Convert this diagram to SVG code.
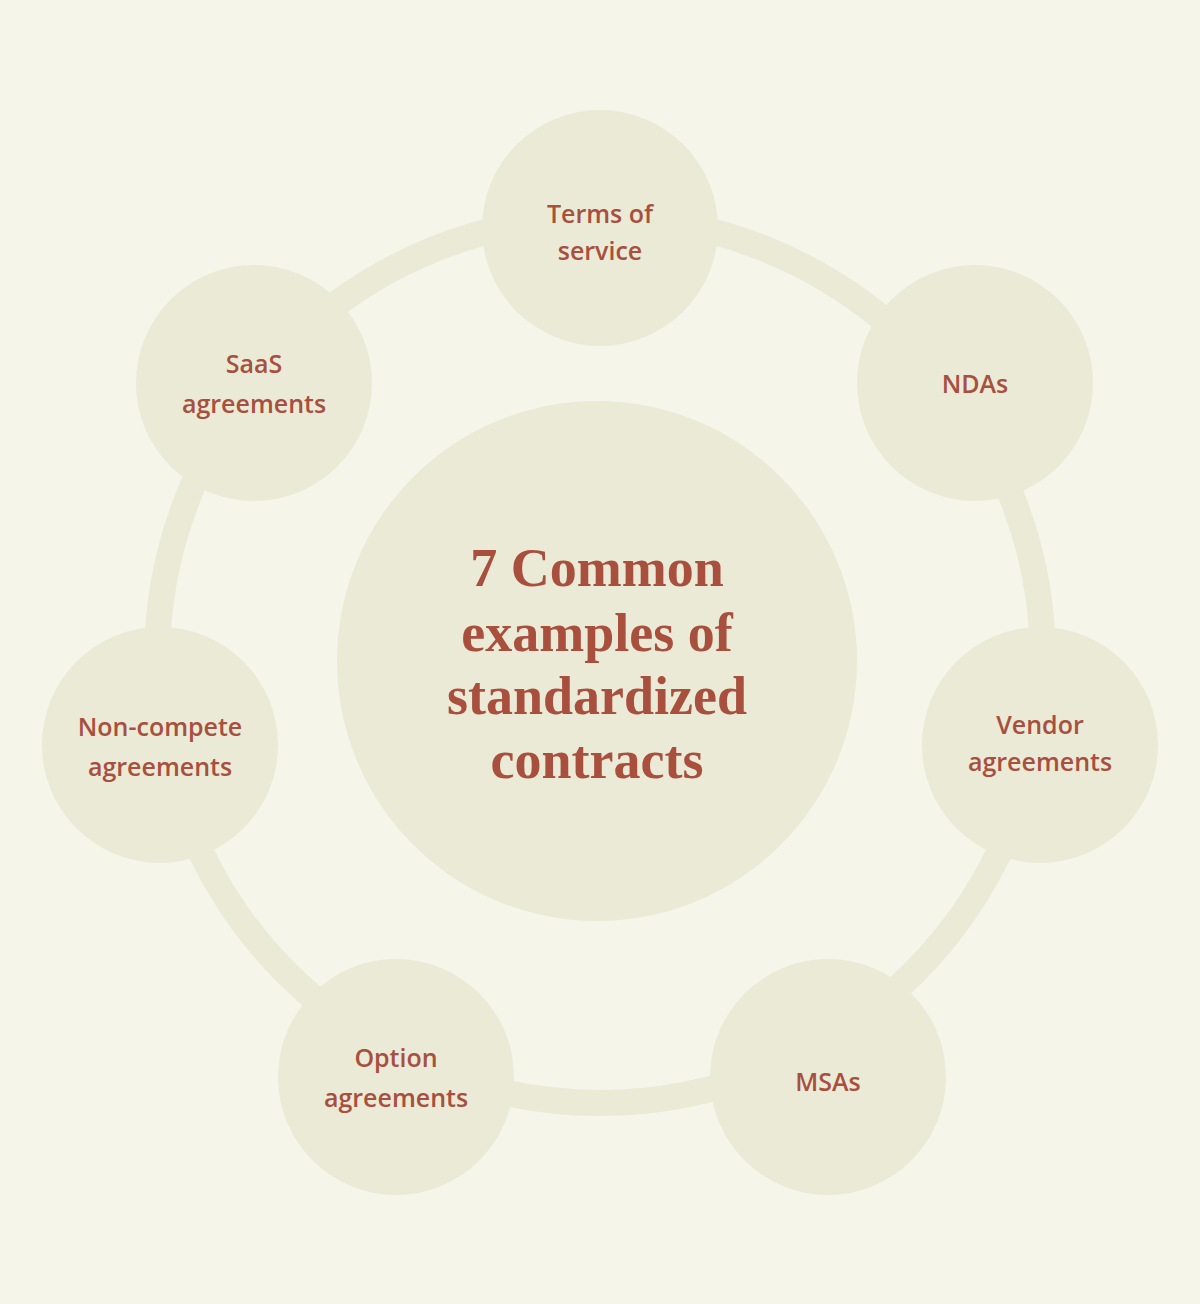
<svg xmlns="http://www.w3.org/2000/svg" width="1200" height="1304" viewBox="0 0 1200 1304">
<style>
.n{fill:#eaead6}
.t{fill:#a84f3e;font-family:"Open Sans","Liberation Sans",sans-serif;font-weight:600;font-size:25px;text-anchor:middle}
.h{fill:#a84f3e;font-family:"Liberation Serif",serif;font-weight:700;font-size:54px;text-anchor:middle}
</style>
<rect width="1200" height="1304" fill="#f5f5ea"/>
<g id="connectors"><circle cx="600" cy="660" r="443" fill="none" stroke="#eaead6" stroke-width="26"/></g>
<g id="center"><circle class="n" cx="597" cy="661" r="260"/>
<text class="h" x="597" y="586">7 Common</text><text class="h" x="597" y="651">examples of</text><text class="h" x="597" y="714">standardized</text><text class="h" x="597" y="778">contracts</text></g>
<g id="terms"><circle class="n" cx="600" cy="228" r="118"/><text class="t" x="600" y="223">Terms of</text><text class="t" x="600" y="260">service</text></g>
<g id="ndas"><circle class="n" cx="975" cy="383" r="118"/><text class="t" x="975" y="393">NDAs</text></g>
<g id="vendor"><circle class="n" cx="1040" cy="745" r="118"/><text class="t" x="1040" y="734">Vendor</text><text class="t" x="1040" y="771">agreements</text></g>
<g id="msas"><circle class="n" cx="828" cy="1077" r="118"/><text class="t" x="828" y="1091">MSAs</text></g>
<g id="option"><circle class="n" cx="396" cy="1077" r="118"/><text class="t" x="396" y="1067">Option</text><text class="t" x="396" y="1107">agreements</text></g>
<g id="noncompete"><circle class="n" cx="160" cy="745" r="118"/><text class="t" x="160" y="736">Non-compete</text><text class="t" x="160" y="776">agreements</text></g>
<g id="saas"><circle class="n" cx="254" cy="383" r="118"/><text class="t" x="254" y="373">SaaS</text><text class="t" x="254" y="413">agreements</text></g>
</svg>
